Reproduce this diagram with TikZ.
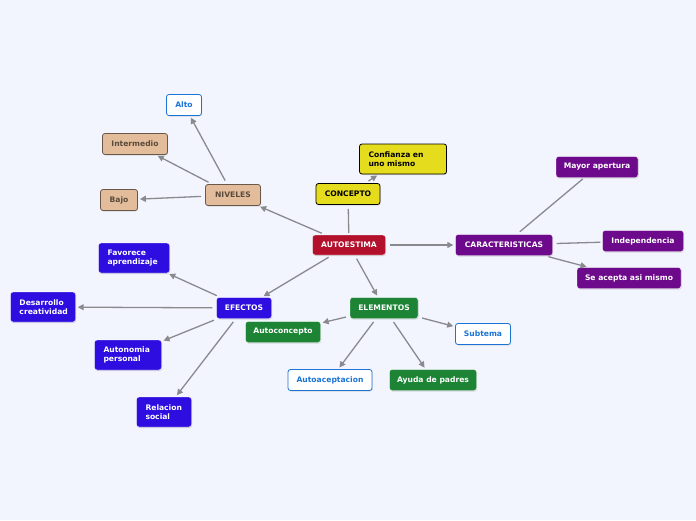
\documentclass[tikz,border=0pt]{standalone}
\usepackage{fontspec}
\setmainfont{DejaVu Sans}
\usepackage{tikz}
\usetikzlibrary{arrows.meta, positioning, shadows}

\definecolor{fondo}{HTML}{F2F5FE}
\definecolor{rojo}{HTML}{B3102C}
\definecolor{amarillo}{HTML}{E6DC1E}
\definecolor{cafe}{HTML}{E3BD9B}
\definecolor{cafeborde}{HTML}{6A5848}
\definecolor{cafetexto}{HTML}{5A4A3C}
\definecolor{morado}{HTML}{6D0A8B}
\definecolor{azul}{HTML}{2D0DDF}
\definecolor{verde}{HTML}{1C8434}
\definecolor{celeste}{HTML}{1A74D6}
\definecolor{linea}{HTML}{8A8A8E}

\begin{document}
\begin{tikzpicture}[x=1pt, y=-1pt, font=\fontsize{7.6}{9.5}\selectfont\bfseries,
	caja/.style={rectangle, rounded corners=2.5pt, minimum height=21pt, inner xsep=6pt, inner ysep=3pt, align=left,
		drop shadow={shadow xshift=.6pt, shadow yshift=-1pt, opacity=.25}},
	doble/.style={minimum height=30pt, inner xsep=9pt, text width=#1},
	raiz/.style={caja, fill=rojo, draw=white, text=white},
	concepto/.style={caja, fill=amarillo, draw=black, line width=.8pt, text=black},
	nivel/.style={caja, fill=cafe, draw=cafeborde, line width=.8pt, text=cafetexto},
	caract/.style={caja, fill=morado, draw=white, text=white},
	efecto/.style={caja, fill=azul, draw=white, text=white},
	elemento/.style={caja, fill=verde, draw=white, text=white},
	subtema/.style={caja, fill=white, draw=celeste, line width=.8pt, text=celeste},
	liga/.style={draw=linea, line width=1.3pt, shorten <=4pt, shorten >=2pt},
	flecha/.style={liga, -{Triangle[length=6pt, width=6pt]}}]
		
		\useasboundingbox[fill=fondo] (0,0) rectangle (696,520);
		
		% Nodes
		\node[raiz, minimum width=73pt, minimum height=20pt] (auto) at (349,245) {AUTOESTIMA};
		
		\node[concepto, minimum width=64pt] (concepto) at (348,194) {CONCEPTO};
		\node[concepto, doble=69pt] (confianza) at (403,159) {Confianza en\\uno mismo};
		
		\node[nivel, minimum width=55pt] (niveles) at (233,195) {NIVELES};
		\node[subtema, minimum width=35pt] (alto) at (184,105) {Alto};
		\node[nivel, minimum width=65pt] (intermedio) at (135,144) {Intermedio};
		\node[nivel, minimum width=37pt] (bajo) at (119,200) {Bajo};
		
		\node[caract, minimum width=97pt] (caracteristicas) at (504,245) {CARACTERISTICAS};
		\node[caract, minimum width=82pt] (apertura) at (597,167) {Mayor apertura};
		\node[caract, minimum width=81pt] (independencia) at (643,241) {Independencia};
		\node[caract, minimum width=104pt] (acepta) at (629,278) {Se acepta asi mismo};
		
		\node[efecto, minimum width=55pt] (efectos) at (244,308) {EFECTOS};
		\node[efecto, doble=53pt] (favorece) at (134,258) {Favorece\\aprendizaje};
		\node[efecto, doble=47pt] (desarrollo) at (43,307) {Desarrollo\\creatividad};
		\node[efecto, doble=49pt] (autonomia) at (128,355) {Autonomia\\personal};
		\node[efecto, doble=37pt] (relacion) at (164,412) {Relacion\\social};
		
		\node[elemento, minimum width=68pt] (elementos) at (384,308) {ELEMENTOS};
		\node[elemento, minimum width=75pt] (autoconcepto) at (283,332) {Autoconcepto};
		\node[subtema, minimum width=55pt] (subtema) at (483,334) {Subtema};
		\node[subtema, minimum width=84pt] (autoaceptacion) at (330,380) {Autoaceptacion};
		\node[elemento, minimum width=87pt] (ayuda) at (433,380) {Ayuda de padres};
		
		% Arrows
		\draw[liga] (concepto) -- (auto);
		\draw[flecha] (concepto) -- (confianza);
		\draw[flecha] (auto) -- (niveles);
		\draw[flecha] (auto) -- (caracteristicas);
		\draw[flecha] (auto) -- (efectos);
		\draw[flecha] (auto) -- (elementos);
		
		\draw[flecha] (niveles) -- (alto);
		\draw[flecha] (niveles) -- (intermedio);
		\draw[flecha] (niveles) -- (bajo);
		
		\draw[liga] (caracteristicas) -- (apertura);
		\draw[liga] (caracteristicas) -- (independencia);
		\draw[flecha] (caracteristicas) -- (acepta);
		
		\draw[flecha] (efectos) -- (favorece);
		\draw[flecha] (efectos) -- (desarrollo);
		\draw[flecha] (efectos) -- (autonomia);
		\draw[flecha] (efectos) -- (relacion);
		
		\draw[flecha] (elementos) -- (autoconcepto);
		\draw[flecha] (elementos) -- (subtema);
		\draw[flecha] (elementos) -- (autoaceptacion);
		\draw[flecha] (elementos) -- (ayuda);
		
\end{tikzpicture}
\end{document}
